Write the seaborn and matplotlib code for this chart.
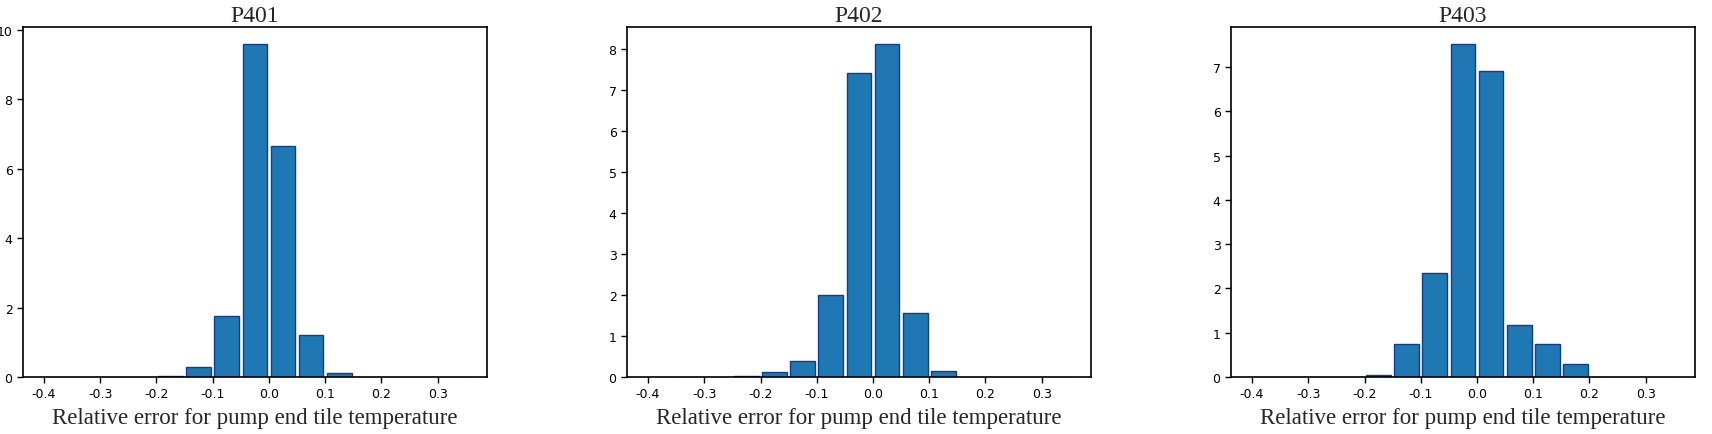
#!/usr/bin/env python3
# -*- coding: utf-8 -*-

import numpy as np
import pandas as pd
import seaborn as sns
import matplotlib
matplotlib.use("Agg")
import matplotlib.pyplot as plt

# bin edges shared by all three histograms (width 0.05, from -0.4 to 0.35)
bin_edges = [-0.40, -0.35, -0.30, -0.25, -0.20, -0.15, -0.10, -0.05,
             0.00, 0.05, 0.10, 0.15, 0.20, 0.25, 0.30, 0.35]

# density, one value per bin
p401_density = [0, 0, 0, 0, 0.02, 0.30, 1.75, 9.60, 6.65, 1.22, 0.13, 0, 0, 0, 0]
p402_density = [0, 0, 0, 0.02, 0.12, 0.40, 2.00, 7.42, 8.13, 1.57, 0.15, 0, 0, 0, 0]
p403_density = [0, 0, 0, 0, 0.04, 0.74, 2.36, 7.53, 6.91, 1.18, 0.74, 0.30, 0, 0, 0]

titles = ["P401", "P402", "P403"]
xticks = [-0.4, -0.3, -0.2, -0.1, 0.0, 0.1, 0.2, 0.3]
xlabel = "Relative error for pump end tile temperature"

sns.set_style("ticks")
plt.rcParams['font.family'] = ['DejaVu Sans']

centers = (np.array(bin_edges[:-1]) + np.array(bin_edges[1:])) / 2

fig, axes = plt.subplots(1, 3, figsize=(17.12, 4.35), dpi=100)
plt.subplots_adjust(left=0.0134, right=0.990, bottom=0.131, top=0.9356, wspace=0.302)

for ax, title, dens in zip(axes, titles, [p401_density, p402_density, p403_density]):
    df = pd.DataFrame({'err': centers, 'dens': dens})
    sns.histplot(data=df, x='err', weights='dens', bins=bin_edges, stat='count',
                 shrink=0.88, color='#1f77b4', alpha=1.0,
                 edgecolor='#0d3f8a', linewidth=1.0, ax=ax)
    ax.set_xlim(-0.4375, 0.3875)
    ax.set_xticks(xticks)
    ax.set_xticklabels(["%.1f" % t for t in xticks])
    ax.set_ylabel("")
    ax.set_xlabel(xlabel, fontsize=16.5, family='Liberation Serif', labelpad=5)
    ax.set_title(title, fontsize=17, family='Liberation Serif', pad=4)
    ax.tick_params(labelsize=9, length=4, width=1, colors='black')
    for sp in ax.spines.values():
        sp.set_visible(True)
        sp.set_linewidth(1.2)
        sp.set_color('black')

plt.savefig("out.png", dpi=100)
